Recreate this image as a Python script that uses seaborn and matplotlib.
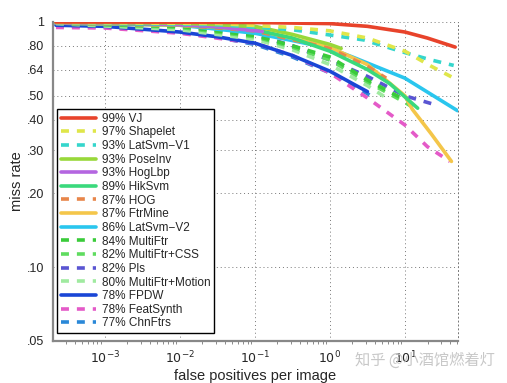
import numpy as np
import pandas as pd
import matplotlib
matplotlib.use("Agg")
import matplotlib.pyplot as plt
import seaborn as sns
from matplotlib.ticker import FixedLocator, LogLocator, NullFormatter

# curves: log10(fppi) and miss rate
names = ["99% VJ", "97% Shapelet", "93% LatSvm\u2212V1", "93% PoseInv", "93% HogLbp",
         "89% HikSvm", "87% HOG", "87% FtrMine", "86% LatSvm\u2212V2", "84% MultiFtr",
         "82% MultiFtr+CSS", "82% Pls", "80% MultiFtr+Motion", "78% FPDW",
         "78% FeatSynth", "77% ChnFtrs"]
colors = ["#e8432b", "#dfe64a", "#35d6cc", "#98d83a", "#b466e0", "#3ad97c", "#e8864a",
          "#f4c64a", "#2ac6ee", "#3acb3a", "#5fdc5f", "#5a55d2", "#a0eaa0", "#1a46d6",
          "#e45ac8", "#2a88d8"]
dashed = [False, True, True, False, False, False, True, False, False, True, True, True,
          True, False, True, True]

lx_vj = [-3.65, -2, -1, 0, 0.5, 1, 1.3, 1.67]
mr_vj = [1.0, 0.998, 0.995, 0.985, 0.96, 0.91, 0.86, 0.79]
lx_shapelet = [-3.65, -1.5, -0.5, 0, 0.5, 1, 1.35, 1.7]
mr_shapelet = [0.995, 0.985, 0.95, 0.92, 0.86, 0.76, 0.66, 0.58]
lx_latsvm1 = [-3.65, -1.5, -0.5, 0, 0.45, 1, 1.35, 1.65]
mr_latsvm1 = [0.995, 0.975, 0.93, 0.885, 0.845, 0.75, 0.7, 0.665]
lx_poseinv = [-3.65, -2, -1, -0.5, 0, 0.15]
mr_poseinv = [0.995, 0.99, 0.96, 0.89, 0.81, 0.78]
lx_hoglbp = [-3.65, -2.5, -2, -1.5, -0.9]
mr_hoglbp = [0.99, 0.985, 0.975, 0.955, 0.915]
lx_hiksvm = [-3.65, -2, -1, -0.5, 0, 0.5, 0.8, 1.17]
mr_hiksvm = [0.99, 0.975, 0.93, 0.86, 0.76, 0.64, 0.56, 0.445]
lx_hog = [-3.65, -2, -1, 0, 0.5, 0.75]
mr_hog = [0.99, 0.97, 0.92, 0.78, 0.66, 0.59]
lx_ftrmine = [-3.65, -2, -1, 0, 0.5, 1, 1.1, 1.35, 1.62]
mr_ftrmine = [0.99, 0.97, 0.93, 0.79, 0.67, 0.5, 0.44, 0.35, 0.27]
lx_latsvm2 = [-3.65, -2, -1, -0.5, 0, 0.3, 1, 1.7]
mr_latsvm2 = [0.99, 0.97, 0.9, 0.84, 0.78, 0.72, 0.59, 0.435]
lx_multiftr = [-3.65, -2, -1, -0.5, 0, 0.5, 0.95]
mr_multiftr = [0.99, 0.96, 0.88, 0.8, 0.72, 0.58, 0.49]
lx_css = [-3.65, -2, -1, -0.5, 0, 0.5, 1, 1.1]
mr_css = [0.99, 0.95, 0.87, 0.79, 0.7, 0.57, 0.47, 0.45]
lx_pls = [-3.65, -2, -1, -0.5, 0, 0.5, 1, 1.4]
mr_pls = [0.99, 0.96, 0.89, 0.8, 0.7, 0.6, 0.5, 0.46]
lx_motion = [-3.65, -2, -1, -0.5, 0, 0.5, 0.8]
mr_motion = [0.985, 0.93, 0.85, 0.77, 0.67, 0.55, 0.48]
lx_fpdw = [-3.65, -3, -2, -1.5, -1, -0.5, 0, 0.4, 0.5]
mr_fpdw = [0.97, 0.96, 0.91, 0.87, 0.82, 0.73, 0.63, 0.54, 0.52]
lx_featsynth = [-3.65, -3, -2, -1, -0.5, 0, 0.5, 1, 1.3, 1.6]
mr_featsynth = [0.95, 0.945, 0.9, 0.82, 0.73, 0.62, 0.49, 0.38, 0.31, 0.27]
lx_chnftrs = [-3.65, -3, -2, -1.5, -1, -0.5, 0, 0.4, 0.55]
mr_chnftrs = [0.965, 0.955, 0.905, 0.865, 0.81, 0.72, 0.62, 0.53, 0.5]

all_lx = [lx_vj, lx_shapelet, lx_latsvm1, lx_poseinv, lx_hoglbp, lx_hiksvm, lx_hog,
          lx_ftrmine, lx_latsvm2, lx_multiftr, lx_css, lx_pls, lx_motion, lx_fpdw,
          lx_featsynth, lx_chnftrs]
all_mr = [mr_vj, mr_shapelet, mr_latsvm1, mr_poseinv, mr_hoglbp, mr_hiksvm, mr_hog,
          mr_ftrmine, mr_latsvm2, mr_multiftr, mr_css, mr_pls, mr_motion, mr_fpdw,
          mr_featsynth, mr_chnftrs]

yticks = [0.05, 0.10, 0.20, 0.30, 0.40, 0.50, 0.64, 0.80, 1.0]
ytick_labels = [".05", ".10", ".20", ".30", ".40", ".50", ".64", ".80", "1"]
xticks = [1e-3, 1e-2, 1e-1, 1e0, 1e1]

sns.set_style("white")
plt.rcParams['font.family'] = ['Liberation Sans', 'DejaVu Sans']

fig = plt.figure(figsize=(5.07, 3.83), dpi=100)
ax = fig.add_axes([0.1045, 0.1097, 0.7988, 0.8329])

for i in range(len(names)):
    df = pd.DataFrame({"fppi": np.power(10.0, all_lx[i]), "miss": all_mr[i]})
    sns.lineplot(data=df, x="fppi", y="miss", ax=ax, color=colors[i], lw=2.6,
                 linestyle=(0, (2.2, 2.2)) if dashed[i] else "-",
                 label=names[i], sort=False, zorder=3 + (len(names) - i) * 0.01)

ax.set_xscale("log")
ax.set_yscale("log")
ax.set_xlim(10 ** -3.69, 10 ** 1.707)
ax.set_ylim(0.05, 1.0)
ax.xaxis.set_major_locator(FixedLocator(xticks))
ax.xaxis.set_minor_locator(LogLocator(base=10, subs=np.arange(2, 10)))
ax.xaxis.set_minor_formatter(NullFormatter())
ax.yaxis.set_major_locator(FixedLocator(yticks))
ax.yaxis.set_minor_locator(FixedLocator([]))
ax.set_yticklabels(ytick_labels)
ax.set_xticklabels([r"$10^{-3}$", r"$10^{-2}$", r"$10^{-1}$", r"$10^{0}$", r"$10^{1}$"])

ax.grid(True, which="major", linestyle=(0, (1, 3)), color="#777777", lw=0.7)
ax.tick_params(axis="both", which="major", labelsize=9, length=3, direction="out",
               color="#777777", width=0.8)
ax.tick_params(axis="x", which="minor", length=2, direction="out", color="#777777",
               width=0.6, bottom=True)
for s in ["left", "bottom"]:
    ax.spines[s].set_color("#888888")
    ax.spines[s].set_linewidth(1.6)
ax.spines["top"].set_visible(False)
ax.spines["right"].set_linestyle((0, (1, 3)))
ax.spines["right"].set_color("#777777")
ax.spines["right"].set_linewidth(0.7)

ax.set_xlabel("false positives per image", fontsize=10.5, labelpad=2)
ax.set_ylabel("miss rate", fontsize=10.5, labelpad=2)

leg = ax.legend(loc="lower left", bbox_to_anchor=(0.01, 0.025), fontsize=8.5,
                frameon=True, fancybox=False, edgecolor="black", framealpha=1,
                handlelength=3.0, handletextpad=0.5, labelspacing=0.14,
                borderpad=0.3, borderaxespad=0)
leg.get_frame().set_linewidth(1.0)

fig.text(0.70, 0.06, "知乎 @小酒馆燃着灯", fontsize=11, color="#c8c8c8",
         family=['Noto Sans CJK SC', 'DejaVu Sans'], va="center")

fig.savefig("out.png", dpi=100)
